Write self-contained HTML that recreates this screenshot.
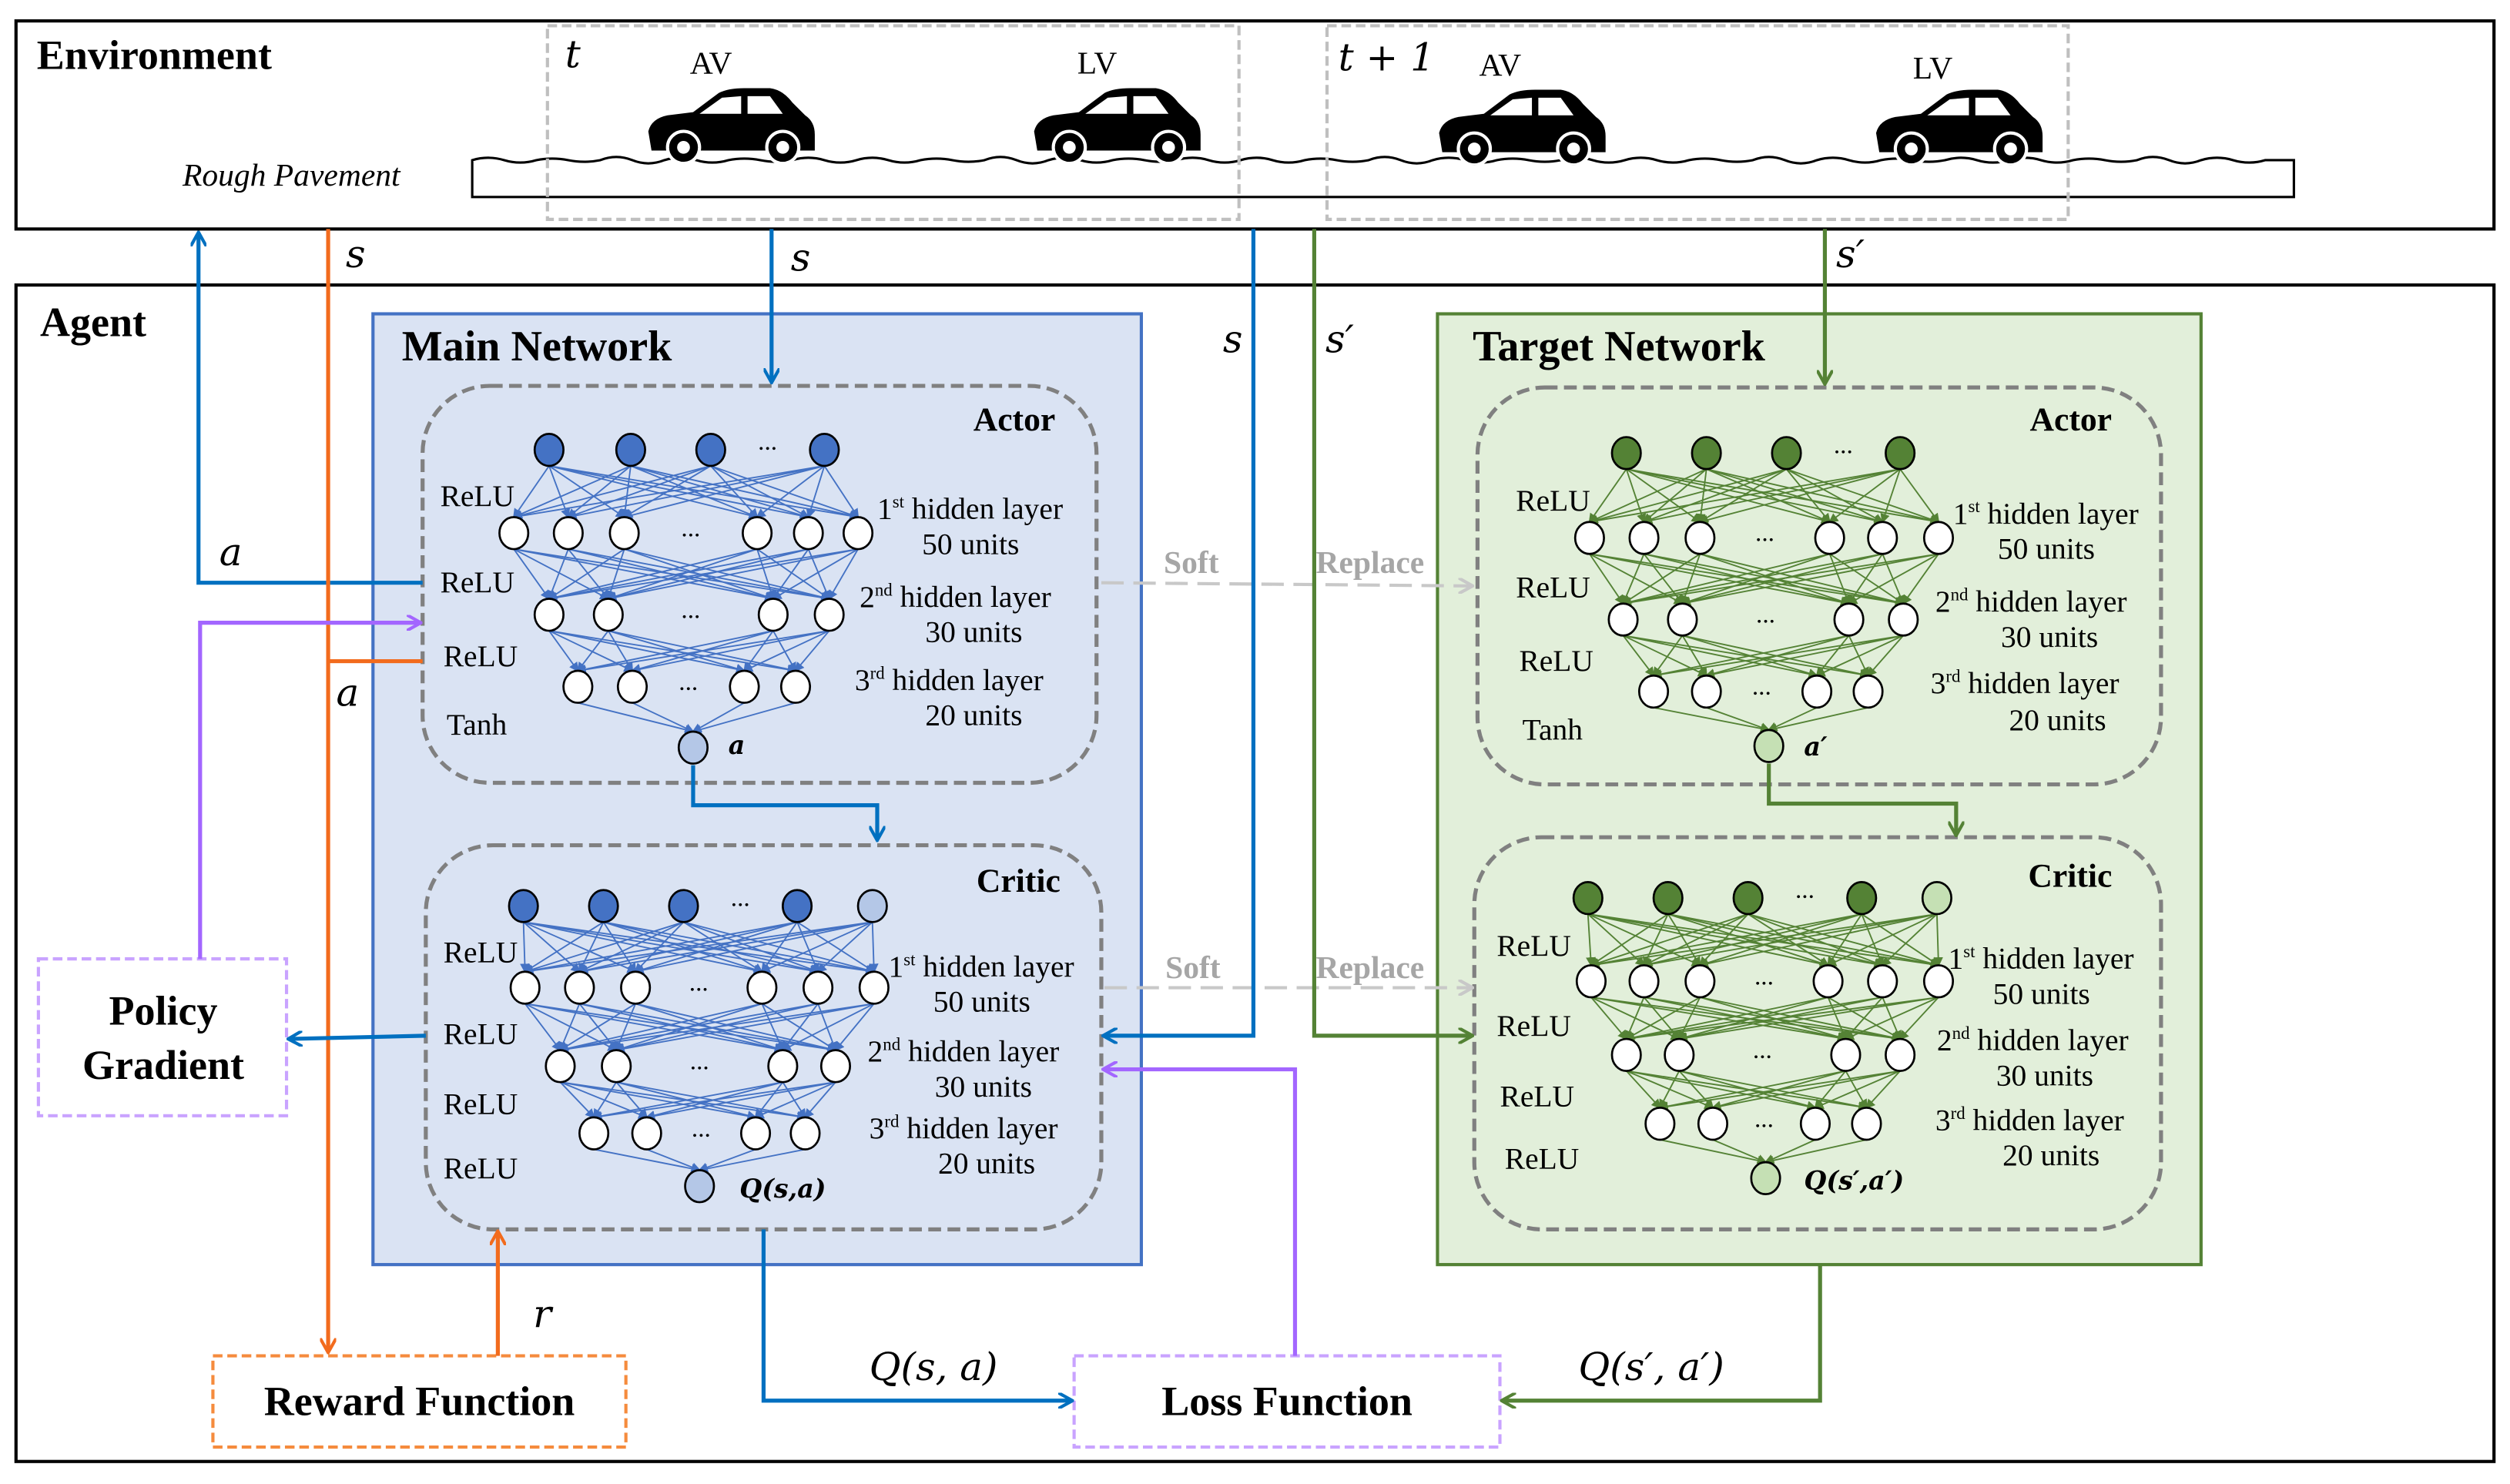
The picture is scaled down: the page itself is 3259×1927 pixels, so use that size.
<!DOCTYPE html>
<html><head><meta charset="utf-8"><style>
html,body{margin:0;padding:0;background:#fff;}
svg{display:block;}
text{font-family:"Liberation Serif",serif;fill:#000;}
.b{font-weight:bold;}
.m{font-family:"DejaVu Serif","Liberation Serif",serif;font-style:italic;}
.gr{fill:#A6A6A6;}
</style></head><body>
<svg id="s" width="3259" height="1927" viewBox="0 0 1568 927" xmlns="http://www.w3.org/2000/svg">
<defs>
<marker id="ab" markerWidth="10" markerHeight="10" refX="8" refY="5" orient="auto" markerUnits="userSpaceOnUse"><path d="M0,0 L9,5 L0,10" fill="none" stroke="#0070C0" stroke-width="2"/></marker>
<marker id="ao" markerWidth="10" markerHeight="10" refX="8" refY="5" orient="auto" markerUnits="userSpaceOnUse"><path d="M0,0 L9,5 L0,10" fill="none" stroke="#F26B1D" stroke-width="2"/></marker>
<marker id="ap" markerWidth="10" markerHeight="10" refX="8" refY="5" orient="auto" markerUnits="userSpaceOnUse"><path d="M0,0 L9,5 L0,10" fill="none" stroke="#A366FF" stroke-width="2"/></marker>
<marker id="ag" markerWidth="10" markerHeight="10" refX="8" refY="5" orient="auto" markerUnits="userSpaceOnUse"><path d="M0,0 L9,5 L0,10" fill="none" stroke="#548235" stroke-width="2"/></marker>
<marker id="ay" markerWidth="10" markerHeight="10" refX="8" refY="5" orient="auto" markerUnits="userSpaceOnUse"><path d="M0,0 L9,5 L0,10" fill="none" stroke="#C8C8C8" stroke-width="2"/></marker>
<marker id="eb" markerWidth="6" markerHeight="6" refX="5" refY="3" orient="auto" markerUnits="userSpaceOnUse"><path d="M0,0 L6,3 L0,6z" fill="#4472C4"/></marker>
<marker id="eg" markerWidth="6" markerHeight="6" refX="5" refY="3" orient="auto" markerUnits="userSpaceOnUse"><path d="M0,0 L6,3 L0,6z" fill="#548235"/></marker>
<symbol id="car" viewBox="0 0 108 48">
<path d="M4,40 L2,28 Q4,20 14,18 L30,16 L46,4 Q52,1 62,1 L78,1 Q86,2 92,10 L100,18 Q106,22 106,30 L106,40 Z" fill="#000"/>
<path d="M34,17 L48,7 L60,6 L60,17 Z M64,6 L78,6 L86,17 L64,17 Z" fill="#fff"/>
<circle cx="24" cy="38" r="10" fill="#000" stroke="#fff" stroke-width="2"/><circle cx="24" cy="38" r="4" fill="#fff"/>
<circle cx="86" cy="38" r="10" fill="#000" stroke="#fff" stroke-width="2"/><circle cx="86" cy="38" r="4" fill="#fff"/>
</symbol>
</defs>
<rect width="1568" height="927" fill="#fff"/>
<rect x="10" y="13" width="1548" height="130" fill="none" stroke="#000" stroke-width="2"/>
<text x="23" y="43" class="b" font-size="26">Environment</text>
<text x="114" y="116" font-size="20" font-style="italic">Rough Pavement</text>
<path id="pave" d="" fill="#fff" stroke="#000" stroke-width="1.5"/>
<rect x="342" y="16" width="432" height="121" fill="none" stroke="#BFBFBF" stroke-width="2" stroke-dasharray="6,3"/>
<rect x="829" y="16" width="463" height="121" fill="none" stroke="#BFBFBF" stroke-width="2" stroke-dasharray="6,3"/>
<text x="353" y="42" class="m" font-size="24">t</text>
<text x="836" y="44" class="m" font-size="24">t + 1</text>
<text x="431" y="46" font-size="20">AV</text><text x="673" y="46" font-size="20">LV</text>
<text x="924" y="47" font-size="20">AV</text><text x="1195" y="49" font-size="20">LV</text>
<use href="#car" x="403" y="54" width="108" height="48"/>
<use href="#car" x="644" y="54" width="108" height="48"/>
<use href="#car" x="897" y="55" width="108" height="48"/>
<use href="#car" x="1170" y="55" width="108" height="48"/>
<rect x="10" y="178" width="1548" height="735" fill="none" stroke="#000" stroke-width="2"/>
<text x="25" y="210" class="b" font-size="26">Agent</text>
<rect x="233" y="196" width="480" height="594" fill="#DAE3F3" stroke="#4472C4" stroke-width="2"/>
<rect x="898" y="196" width="477" height="594" fill="#E2EFDA" stroke="#548235" stroke-width="2"/>
<text x="251" y="225" class="b" font-size="27">Main Network</text>
<text x="920" y="225" class="b" font-size="27">Target Network</text>
<g fill="none" stroke="#808080" stroke-width="2.5" stroke-dasharray="8,4">
<rect x="264" y="241" width="421" height="248" rx="42"/>
<rect x="266" y="528" width="422" height="240" rx="42"/>
<rect x="923" y="242" width="427" height="248" rx="42"/>
<rect x="921" y="523" width="429" height="245" rx="42"/>
</g>
<g id="nets"></g>
<g font-size="19">
<text x="608" y="269" class="b" font-size="21">Actor</text>
<text x="610" y="557" class="b" font-size="21">Critic</text>
<text x="1268" y="269" class="b" font-size="21">Actor</text>
<text x="1267" y="554" class="b" font-size="21">Critic</text>
<text x="275" y="316">ReLU</text><text x="275" y="370">ReLU</text><text x="277" y="416">ReLU</text><text x="279" y="459">Tanh</text>
<text x="277" y="601">ReLU</text><text x="277" y="652">ReLU</text><text x="277" y="696">ReLU</text><text x="277" y="736">ReLU</text>
<text x="947" y="319">ReLU</text><text x="947" y="373">ReLU</text><text x="949" y="419">ReLU</text><text x="951" y="462">Tanh</text>
<text x="935" y="597">ReLU</text><text x="935" y="647">ReLU</text><text x="937" y="691">ReLU</text><text x="940" y="730">ReLU</text>
<text x="548" y="324">1<tspan font-size="11" dy="-7">st</tspan><tspan dy="7"> hidden layer</tspan></text><text x="576" y="346">50 units</text>
<text x="537" y="379">2<tspan font-size="11" dy="-7">nd</tspan><tspan dy="7"> hidden layer</tspan></text><text x="578" y="401">30 units</text>
<text x="534" y="431">3<tspan font-size="11" dy="-7">rd</tspan><tspan dy="7"> hidden layer</tspan></text><text x="578" y="453">20 units</text>
<text x="555" y="610">1<tspan font-size="11" dy="-7">st</tspan><tspan dy="7"> hidden layer</tspan></text><text x="583" y="632">50 units</text>
<text x="542" y="663">2<tspan font-size="11" dy="-7">nd</tspan><tspan dy="7"> hidden layer</tspan></text><text x="584" y="685">30 units</text>
<text x="543" y="711">3<tspan font-size="11" dy="-7">rd</tspan><tspan dy="7"> hidden layer</tspan></text><text x="586" y="733">20 units</text>
<text x="1220" y="327">1<tspan font-size="11" dy="-7">st</tspan><tspan dy="7"> hidden layer</tspan></text><text x="1248" y="349">50 units</text>
<text x="1209" y="382">2<tspan font-size="11" dy="-7">nd</tspan><tspan dy="7"> hidden layer</tspan></text><text x="1250" y="404">30 units</text>
<text x="1206" y="433">3<tspan font-size="11" dy="-7">rd</tspan><tspan dy="7"> hidden layer</tspan></text><text x="1255" y="456">20 units</text>
<text x="1217" y="605">1<tspan font-size="11" dy="-7">st</tspan><tspan dy="7"> hidden layer</tspan></text><text x="1245" y="627">50 units</text>
<text x="1210" y="656">2<tspan font-size="11" dy="-7">nd</tspan><tspan dy="7"> hidden layer</tspan></text><text x="1247" y="678">30 units</text>
<text x="1209" y="706">3<tspan font-size="11" dy="-7">rd</tspan><tspan dy="7"> hidden layer</tspan></text><text x="1251" y="728">20 units</text>
</g>
<g class="m" font-size="16" font-weight="bold">
<text x="455" y="471" class="m">a</text>
<text x="462" y="748" class="m">Q(s,a)</text>
<text x="1127" y="472" class="m">a′</text>
<text x="1127" y="743" class="m">Q(s′,a′)</text>
</g>
<line x1="688" y1="364" x2="919" y2="366" stroke="#C8C8C8" stroke-width="2" stroke-dasharray="14,6" marker-end="url(#ay)"/>
<line x1="690" y1="617" x2="919" y2="617" stroke="#C8C8C8" stroke-width="2" stroke-dasharray="14,6" marker-end="url(#ay)"/>
<g font-size="20" class="b"><text x="727" y="358" class="gr b">Soft</text><text x="822" y="358" class="gr b">Replace</text>
<text x="728" y="611" class="gr b">Soft</text><text x="822" y="611" class="gr b">Replace</text></g>
<rect x="24" y="599" width="155" height="98" fill="#fff" stroke="#C9A3FF" stroke-width="2" stroke-dasharray="6,3"/>
<text x="102" y="640" class="b" font-size="26" text-anchor="middle">Policy</text>
<text x="102" y="674" class="b" font-size="26" text-anchor="middle">Gradient</text>
<rect x="133" y="847" width="258" height="57" fill="#fff" stroke="#F58B3D" stroke-width="2" stroke-dasharray="6,3"/>
<text x="262" y="884" class="b" font-size="26" text-anchor="middle">Reward Function</text>
<rect x="671" y="847" width="266" height="57" fill="#fff" stroke="#C9A3FF" stroke-width="2" stroke-dasharray="6,3"/>
<text x="804" y="884" class="b" font-size="26" text-anchor="middle">Loss Function</text>
<g fill="none" stroke-width="2.5">
<polyline points="264,364 124,364 124,146" stroke="#0070C0" marker-end="url(#ab)"/>
<polyline points="205,143 205,844" stroke="#F26B1D" marker-end="url(#ao)"/>
<polyline points="205,413 264,413" stroke="#F26B1D"/>
<polyline points="125,599 125,389 262,389" stroke="#A366FF" marker-end="url(#ap)"/>
<polyline points="482,143 482,238" stroke="#0070C0" marker-end="url(#ab)"/>
<polyline points="783,143 783,647 690,647" stroke="#0070C0" marker-end="url(#ab)"/>
<polyline points="821,143 821,647 919,647" stroke="#548235" marker-end="url(#ag)"/>
<polyline points="1140,143 1140,239" stroke="#548235" marker-end="url(#ag)"/>
<polyline points="433,478 433,503 548,503 548,524" stroke="#0070C0" marker-end="url(#ab)"/>
<polyline points="1105,477 1105,502 1222,502 1222,521" stroke="#548235" marker-end="url(#ag)"/>
<polyline points="266,647 181,649" stroke="#0070C0" marker-end="url(#ab)"/>
<polyline points="477,768 477,875 669,875" stroke="#0070C0" marker-end="url(#ab)"/>
<polyline points="1137,790 1137,875 939,875" stroke="#548235" marker-end="url(#ag)"/>
<polyline points="809,847 809,668 690,668" stroke="#A366FF" marker-end="url(#ap)"/>
<polyline points="311,847 311,770" stroke="#F26B1D" marker-end="url(#ao)"/>
</g>
<g class="m" font-size="24">
<text x="137" y="353" class="m">a</text>
<text x="216" y="167" class="m">s</text>
<text x="210" y="441" class="m">a</text>
<text x="494" y="169" class="m">s</text>
<text x="764" y="220" class="m">s</text>
<text x="828" y="220" class="m">s′</text>
<text x="1147" y="167" class="m">s′</text>
<text x="333" y="829" class="m">r</text>
<text x="543" y="862" class="m">Q(s, a)</text>
<text x="986" y="862" class="m">Q(s′, a′)</text>
</g>
</svg>
<script>
(function(){
var NS="http://www.w3.org/2000/svg",g=document.getElementById("nets");
var d="M295,123 L295,100",x=295,amp=[3,2,4,3,2,3];
for(var i=0;x<1390;i++){var a=amp[i%6];d+=" Q"+(x+10)+","+(100-a)+" "+(x+20)+",100 Q"+(x+30)+","+(100+a)+" "+(x+40)+",100";x+=40;}
d+=" L1433,100 L1433,123 Z";document.getElementById("pave").setAttribute("d",d);
function net(L,col,light,mk,lastLight){
 var i,j,k,ys=L.map(function(l){return l[0];});
 for(i=0;i<L.length-1;i++){
  var a=L[i][1],b=L[i+1][1];
  for(j=0;j<a.length;j++)for(k=0;k<b.length;k++){
   var e=document.createElementNS(NS,"line");
   e.setAttribute("x1",a[j]);e.setAttribute("y1",ys[i]+10);e.setAttribute("x2",b[k]);e.setAttribute("y2",ys[i+1]-10);
   e.setAttribute("stroke",col);e.setAttribute("stroke-width","0.9");e.setAttribute("marker-end","url(#"+mk+")");
   g.appendChild(e);
  }
 }
 for(i=0;i<L.length;i++){
  var xs=L[i][1];
  for(j=0;j<xs.length;j++){
   var c=document.createElementNS(NS,"ellipse");
   c.setAttribute("cx",xs[j]);c.setAttribute("cy",ys[i]);c.setAttribute("rx",9);c.setAttribute("ry",10);
   var f="#fff";
   if(i==0)f=(lastLight&&j==xs.length-1)?light:col;
   if(i==L.length-1)f=light;
   c.setAttribute("fill",f);c.setAttribute("stroke","#000");c.setAttribute("stroke-width","1.3");
   g.appendChild(c);
  }
  var gap=xs.length>4?[xs[2],xs[3]]:(i==0?[xs[2],xs[3]]:(xs.length==4?[xs[1],xs[2]]:null));
  if(gap){var t=document.createElementNS(NS,"text");t.setAttribute("x",(gap[0]+gap[1])/2);t.setAttribute("y",ys[i]+(i==0?0:2));
   t.setAttribute("text-anchor","middle");t.setAttribute("font-size","16");t.textContent="...";g.appendChild(t);}
 }
}
net([[281,[343,394,444,515]],[333,[321,355,390,473,505,536]],[384,[343,380,483,518]],[429,[361,395,465,497]],[467,[433]]],"#4472C4","#B4C7E7","eb",false);
net([[566,[327,377,427,498,545]],[617,[328,362,397,476,511,546]],[666,[350,385,489,522]],[708,[371,404,472,503]],[741,[437]]],"#4472C4","#B4C7E7","eb",true);
net([[283,[1016,1066,1116,1187]],[336,[993,1027,1062,1143,1176,1211]],[387,[1014,1051,1155,1189]],[432,[1033,1066,1135,1167]],[466,[1105]]],"#548235","#C5E0B4","eg",false);
net([[561,[992,1042,1092,1163,1210]],[613,[994,1027,1062,1142,1176,1211]],[659,[1016,1049,1153,1187]],[702,[1037,1070,1134,1166]],[736,[1103]]],"#548235","#C5E0B4","eg",true);
})();
</script>
</body></html>
